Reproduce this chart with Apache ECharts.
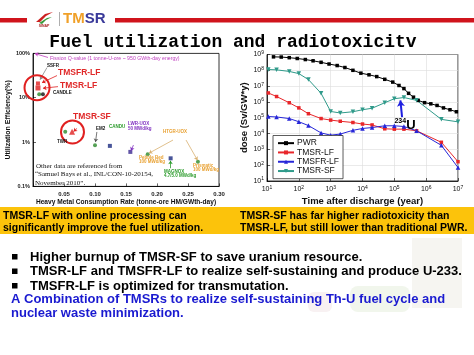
<!DOCTYPE html>
<html><head><meta charset="utf-8">
<script src="https://cdn.jsdelivr.net/npm/echarts@6/dist/echarts.min.js"></script>
<style>html,body{margin:0;padding:0;background:#fff}#c{width:474px;height:355px}</style>
</head><body><div id="c"></div>
<script>
// ---------- Right chart data (radiotoxicity) ----------
const pwrTime = [16, 28, 50, 89, 160, 280, 500, 890, 1600, 2800, 5000, 8900, 16000, 28000, 50000, 89000, 140000, 200000, 280000, 400000, 560000, 890000, 1.4e6, 2.2e6, 3.5e6, 5.6e6, 8.9e6];
const pwrDose = [7.1e8, 6.9e8, 6.3e8, 5.6e8, 4.8e8, 4.0e8, 3.2e8, 2.5e8, 2.0e8, 1.5e8, 1.0e8, 6.6e7, 5.2e7, 4.0e7, 2.7e7, 1.8e7, 1.1e7, 7.0e6, 3.5e6, 2.0e6, 1.26e6, 9.0e5, 7.6e5, 6.0e5, 4.2e5, 3.2e5, 2.4e5];
const lfTime = [11, 20, 50, 100, 200, 500, 1000, 2000, 5000, 1e4, 2e4, 5e4, 1e5, 2e5, 5e5, 3e6, 1e7];
const tmsrLFDose = [3.7e6, 2.2e6, 8.9e5, 4.2e5, 1.8e5, 8.9e4, 7.1e4, 6.0e4, 5.0e4, 4.0e4, 3.5e4, 2.0e4, 1.9e4, 1.9e4, 1.5e4, 2.8e3, 1.66e2];
const tmsfrLFDose = [1.2e5, 1.12e5, 8.9e4, 5.6e4, 3.2e4, 1.1e4, 7.9e3, 9.3e3, 1.6e4, 2.1e4, 2.4e4, 3.1e4, 3.1e4, 2.8e4, 1.5e4, 1.8e3, 71];
const tmsrSFDose = [1.12e8, 1.07e8, 8.5e7, 6.2e7, 2.6e7, 3.5e6, 2.5e5, 2.0e5, 2.4e5, 3.2e5, 4.0e5, 8.9e5, 1.6e6, 1.9e6, 1.26e6, 7.9e4, 5.5e4];
const seriesNames = ['PWR', 'TMSR-LF', 'TMSFR-LF', 'TMSR-SF'];

// ---------- Left chart data (fuel utilization) ----------
const utilNames = ['TMSFR-LF', 'TMSR-LF', 'CANDLE-a', 'CANDLE-b', 'TMSR-SF', 'TWR', 'EM2', 'CANDU', 'LWR-UOX', 'Pebble Bed', 'MAGNOX', 'Prismatic'];
const utilRate = [0.008, 0.008, 0.010, 0.016, 0.063, 0.052, 0.100, 0.124, 0.157, 0.185, 0.222, 0.266];
const utilEff = [21, 16.6, 12, 12, 1.7, 1.7, 0.85, 0.82, 0.6, 0.53, 0.43, 0.36];

// styles (kept separate from data)
const pointStyle = {
  'TMSFR-LF': ['rect', '#e02020', 4], 'TMSR-LF': ['rect', '#e02020', 5], 'CANDLE-a': ['circle', '#2a8a2a', 4],
  'CANDLE-b': ['circle', '#111', 4], 'TMSR-SF': ['triangle', '#e02020', 6], 'TWR': ['circle', '#2a8a2a', 4],
  'EM2': ['circle', '#2a8a2a', 4], 'CANDU': ['rect', '#1a2a80', 4], 'LWR-UOX': ['rect', '#3a2a90', 4],
  'Pebble Bed': ['circle', '#2a8a2a', 4], 'MAGNOX': ['rect', '#1a2a80', 4], 'Prismatic': ['circle', '#2a8a2a', 4]
};

const chart = echarts.init(document.getElementById('c'), null, {renderer: 'canvas'});
const pair = (xs, ys) => xs.map((x, i) => [x, ys[i]]);
const supFmt = v => '10{s|' + Math.round(Math.log10(v)) + '}';
const supRich = {s: {fontSize: 5, verticalAlign: 'top', lineHeight: 9}};
const FONT = '"Liberation Sans", Arial, sans-serif';

function T(text, x, y, font, fill, align) {
  return {type: 'text', x: x, y: y, silent: true, z: 50,
    style: {text: text, font: font, fill: fill, align: align || 'left', verticalAlign: 'middle',
            textAlign: align || 'left', textVerticalAlign: 'middle'}};
}
const tiny = 'bold 4.5px ' + FONT;
const graphics = [
  // faint watermark
  {type: 'rect', shape: {x: 412, y: 238, width: 50, height: 70}, style: {fill: '#f6f5f1'}, z: -10, silent: true},
  {type: 'rect', shape: {x: 350, y: 286, width: 60, height: 26, r: 8}, style: {fill: '#f1f6ec'}, z: -10, silent: true},
  {type: 'rect', shape: {x: 308, y: 292, width: 24, height: 20, r: 6}, style: {fill: '#f8f1f2'}, z: -10, silent: true},
  // header
  {type: 'rect', shape: {x: 0, y: 18, width: 27, height: 4.5}, style: {fill: '#d0141c'}, silent: true},
  {type: 'rect', shape: {x: 115, y: 18, width: 359, height: 4.5}, style: {fill: '#d0141c'}, silent: true},
  {type: 'polygon', shape: {points: [[36, 22], [45, 14], [53, 12], [46, 16], [40, 22]]}, style: {fill: '#cc2020'}, silent: true},
  {type: 'polygon', shape: {points: [[39, 23], [47, 18], [52, 17], [46, 20], [42, 24]]}, style: {fill: '#3a9a3a'}, silent: true},
  T('SINAP', 44, 26, 'bold 3.5px ' + FONT, '#aa2222', 'center'),
  {type: 'line', shape: {x1: 59.5, y1: 12, x2: 59.5, y2: 26}, style: {stroke: '#999', lineWidth: 0.8}, silent: true},
  {type: 'text', x: 63, y: 19, silent: true, style: {text: '{o|TM}{b|SR}', verticalAlign: 'middle', textVerticalAlign: 'middle',
     rich: {o: {font: 'bold 15px ' + FONT, fill: '#f0a028', color: '#f0a028'}, b: {font: 'bold 15px ' + FONT, fill: '#3a3a9a', color: '#3a3a9a'}}}},
  T('Fuel utilization and radiotoxicitv', 233, 42, 'bold 18px "Liberation Mono", "DejaVu Sans Mono", monospace', '#000', 'center'),
  // yellow boxes
  {type: 'rect', shape: {x: 0, y: 207, width: 474, height: 27}, style: {fill: '#fcc30b'}, silent: true},
  T('TMSR-LF with online processing can', 3, 216.5, 'bold 10.5px ' + FONT, '#000'),
  T('significantly improve the fuel utilization.', 3, 228, 'bold 10.5px ' + FONT, '#000'),
  T('TMSR-SF has far higher radiotoxicity than', 240, 216.5, 'bold 10.5px ' + FONT, '#000'),
  T('TMSR-LF, but still lower than traditional PWR.', 240, 228, 'bold 10.5px ' + FONT, '#000'),
  // bullets
  {type: 'rect', shape: {x: 12, y: 254, width: 5.5, height: 5.5}, style: {fill: '#000'}, silent: true},
  {type: 'rect', shape: {x: 12, y: 268.5, width: 5.5, height: 5.5}, style: {fill: '#000'}, silent: true},
  {type: 'rect', shape: {x: 12, y: 283, width: 5.5, height: 5.5}, style: {fill: '#000'}, silent: true},
  T('Higher burnup of TMSR-SF to save uranium resource.', 30, 257, 'bold 13px ' + FONT, '#000'),
  T('TMSR-LF and TMSFR-LF to realize self-sustaining and produce U-233.', 30, 271.5, 'bold 13px ' + FONT, '#000'),
  T('TMSFR-LF is optimized for transmutation.', 30, 286, 'bold 13px ' + FONT, '#000'),
  T('A Combination of TMSRs to realize self-sustaining Th-U fuel cycle and', 11, 299.5, 'bold 13px ' + FONT, '#1a1ad0'),
  T('nuclear waste minimization.', 11, 313.5, 'bold 13px ' + FONT, '#1a1ad0'),
  // left chart annotations
  T('Fission Q-value (1 tonne-U-ore ~ 950 GWth-day energy)', 50, 59, '5.2px ' + FONT, '#c040c0'),
  T('SSFR', 47, 66, tiny, '#111'),
  T('TMSFR-LF', 58, 73, 'bold 8.5px ' + FONT, '#e02828'),
  T('TMSR-LF', 60, 85.5, 'bold 8.5px ' + FONT, '#e02828'),
  T('CANDLE', 53, 93, tiny, '#111'),
  T('TMSR-SF', 73, 117, 'bold 8.5px ' + FONT, '#e02828'),
  T('TWR', 57, 142, tiny, '#111'),
  T('EM2', 96, 129, tiny, '#111'),
  T('CANDU', 109, 127, tiny, '#2a9a2a'),
  T('LWR-UOX', 128, 124, tiny, '#8030c0'),
  T('50 MWd/kg', 128, 129, tiny, '#8030c0'),
  T('HTGR-UOX', 163, 132, tiny, '#e8a030'),
  T('Pebble Bed', 139, 158, tiny, '#e8a030'),
  T('100 MWd/kg', 139, 162, tiny, '#e8a030'),
  T('MAGNOX', 164, 172, tiny, '#2a9a2a'),
  T('4.7/5.0 MWd/kg', 164, 176, tiny, '#2a9a2a'),
  T('Prismatic', 193, 166, tiny, '#e8a030'),
  T('100 MWd/kg', 193, 170, tiny, '#e8a030'),
  T('Other data are referenced from', 36, 166, '7px "Liberation Serif", serif', '#111'),
  T('\u201CSamuel Bays et al., INL/CON-10-20154,', 35, 174.5, '7px "Liberation Serif", serif', '#111'),
  T('November 2010\u201D.', 35, 183, '7px "Liberation Serif", serif', '#111'),
  // 234U
  {type: 'text', x: 405, y: 125, silent: true, z: 50, style: {text: '{a|234}{b|U}', align: 'center', verticalAlign: 'middle',
     textAlign: 'center', textVerticalAlign: 'middle',
     rich: {a: {font: 'bold 7px ' + FONT, fill: '#000', color: '#000', verticalAlign: 'top', lineHeight: 14},
            b: {font: 'bold 13px ' + FONT, fill: '#000', color: '#000', lineHeight: 14}}}}
];

const arrowLines = [
  [[0.0242, 81], [0.003, 99], '#c040c0'],
  [[0.0387, 31.6], [0.0145, 21.9], '#e02020'],
  [[0.0403, 17.8], [0.0161, 16.4], '#e02020'],
  [[0.071, 2.03], [0.0653, 1.73], '#e02020'],
  [[0.0226, 48], [0.0113, 25.6], '#888'],
  [[0.103, 1.69], [0.1008, 1.0], '#555'],
  [[0.162, 0.855], [0.158, 0.64], '#8030c0'],
  [[0.2258, 1.11], [0.187, 0.56], '#d8b070'],
  [[0.2468, 1.11], [0.2653, 0.39], '#d8b070'],
  [[0.2218, 0.257], [0.2218, 0.38], '#2a9a2a']
];

const axBase = {
  axisLine: {show: true, lineStyle: {color: '#000', width: 0.8}},
  axisTick: {show: true, inside: true, length: 3, lineStyle: {color: '#000', width: 0.6}}
};

const option = {
  animation: false,
  backgroundColor: '#fff',
  textStyle: {fontFamily: FONT},
  grid: [
    {left: 33, top: 53.4, width: 186, height: 133, show: true, borderColor: '#000', borderWidth: 0.8, backgroundColor: '#fff'},
    {left: 267, top: 54.5, width: 191, height: 126.5, show: true, borderColor: '#000', borderWidth: 0.8, backgroundColor: '#fff'}
  ],
  xAxis: [
    Object.assign({}, axBase, {type: 'value', gridIndex: 0, min: 0, max: 0.3, interval: 0.05,
      splitLine: {show: false},
      axisLabel: {fontSize: 6, fontWeight: 'bold', color: '#222', margin: 5, formatter: v => v === 0 ? '' : v.toFixed(2)},
      name: 'Heavy Metal Consumption Rate (tonne-ore HM/GWth-day)', nameLocation: 'middle', nameGap: 11,
      nameTextStyle: {fontSize: 6.6, fontWeight: 'bold', color: '#111'}}),
    Object.assign({}, axBase, {type: 'log', logBase: 10, gridIndex: 1, min: 10, max: 1e7, interval: 1,
      splitLine: {show: true, lineStyle: {color: '#dcdcdc', width: 0.6}},
      axisLabel: {fontSize: 7, color: '#111', margin: 4, formatter: supFmt, rich: supRich},
      name: 'Time after discharge (year)', nameLocation: 'middle', nameGap: 15,
      nameTextStyle: {fontSize: 9.5, fontWeight: 'bold', color: '#111'}})
  ],
  yAxis: [
    Object.assign({}, axBase, {type: 'log', logBase: 10, gridIndex: 0, min: 0.1, max: 100, interval: 1,
      splitLine: {show: false},
      axisLabel: {fontSize: 5.5, fontWeight: 'bold', color: '#222', margin: 3, formatter: v => Number(v.toPrecision(3)) + '%'},
      name: 'Utilization Efficiency(%)', nameLocation: 'middle', nameGap: 17,
      nameTextStyle: {fontSize: 7, fontWeight: 'bold', color: '#111'}}),
    Object.assign({}, axBase, {type: 'log', logBase: 10, gridIndex: 1, min: 10, max: 1e9, interval: 1,
      splitLine: {show: true, lineStyle: {color: '#dcdcdc', width: 0.6}},
      axisLabel: {fontSize: 7, color: '#111', margin: 3, formatter: supFmt, rich: supRich},
      name: 'dose (Sv/GW*y)', nameLocation: 'middle', nameGap: 18,
      nameTextStyle: {fontSize: 9.5, fontWeight: 'bold', color: '#111'}})
  ],
  legend: {
    data: seriesNames, orient: 'vertical', left: 273, top: 135.5, itemGap: 0, itemWidth: 16, itemHeight: 5,
    padding: [3, 4, 3, 4], borderColor: '#333', borderWidth: 0.8, backgroundColor: '#fff',
    textStyle: {fontSize: 8.5, color: '#111', lineHeight: 9.3, padding: [0, 0, 0, -2]}
  },
  graphic: graphics,
  series: [
    {type: 'scatter', xAxisIndex: 0, yAxisIndex: 0, name: 'util',
      data: utilNames.map((n, i) => ({name: n, value: [utilRate[i], utilEff[i]], symbol: pointStyle[n][0],
        symbolSize: pointStyle[n][2], itemStyle: {color: pointStyle[n][1]}})),
      markLine: {silent: true, symbol: ['none', 'arrow'], symbolSize: 3.5, label: {show: false},
        data: arrowLines.map(a => [{coord: a[0], lineStyle: {color: a[2], width: 0.8, type: 'solid'}}, {coord: a[1]}])},
      markPoint: {silent: true, symbol: 'circle', label: {show: false},
        itemStyle: {color: 'rgba(0,0,0,0)', borderColor: '#e02020', borderWidth: 2},
        data: [{coord: [0.0065, 16.9], symbolSize: 25}, {coord: [0.0637, 1.69], symbolSize: 23}]}
    },
    {type: 'line', name: 'PWR', xAxisIndex: 1, yAxisIndex: 1, data: pair(pwrTime, pwrDose),
      symbol: 'rect', symbolSize: 3.5, color: '#000', lineStyle: {width: 1, color: '#000'}, itemStyle: {color: '#000'}},
    {type: 'line', name: 'TMSR-LF', xAxisIndex: 1, yAxisIndex: 1, data: pair(lfTime, tmsrLFDose),
      symbol: 'rect', symbolSize: 3.5, color: '#e8262a', lineStyle: {width: 1, color: '#e8262a'}, itemStyle: {color: '#e8262a'}},
    {type: 'line', name: 'TMSFR-LF', xAxisIndex: 1, yAxisIndex: 1, data: pair(lfTime, tmsfrLFDose),
      symbol: 'triangle', symbolSize: 4.5, color: '#2626d8', lineStyle: {width: 1, color: '#2626d8'}, itemStyle: {color: '#2626d8'}},
    {type: 'line', name: 'TMSR-SF', xAxisIndex: 1, yAxisIndex: 1, data: pair(lfTime, tmsrSFDose),
      symbol: 'triangle', symbolRotate: 180, symbolSize: 4.5, color: '#2f9a8a', lineStyle: {width: 1, color: '#2f9a8a'}, itemStyle: {color: '#2f9a8a'},
      markLine: {silent: true, symbol: ['none', 'arrow'], symbolSize: 6, label: {show: false},
        lineStyle: {color: '#1f1fe0', width: 2, type: 'solid'},
        data: [[{coord: [1.75e5, 1.1e5]}, {coord: [1.55e5, 1.25e6]}]]}}
  ]
};
chart.setOption(option);
</script></body></html>
